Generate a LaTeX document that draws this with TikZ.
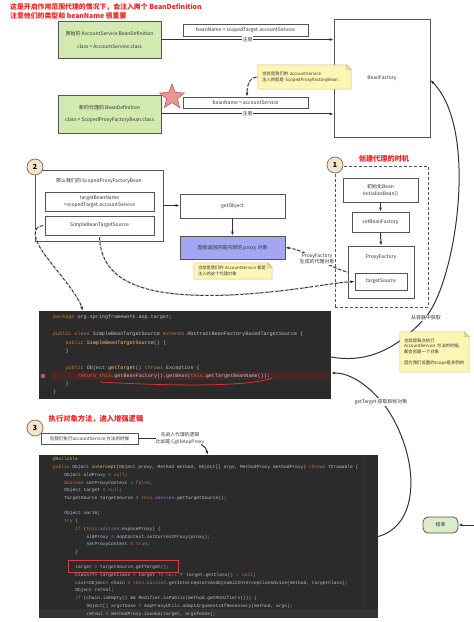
\documentclass[tikz,border=0pt]{standalone}
\usepackage{fontspec}
\setmainfont{Noto Sans CJK SC}
\newfontfamily\codefont{Liberation Mono}
\usetikzlibrary{arrows.meta,shapes.geometric}
\definecolor{edge}{HTML}{555555}
\definecolor{wire}{HTML}{333333}
\definecolor{txt}{HTML}{333333}
\definecolor{gfill}{HTML}{D2E9B0}
\definecolor{gfilltwo}{HTML}{DCECC8}
\definecolor{bluefill}{HTML}{A3A6F0}
\definecolor{notefill}{HTML}{FDF6B5}
\definecolor{noteedge}{HTML}{CFC082}
\definecolor{notefold}{HTML}{E9DF9C}
\definecolor{numfill}{HTML}{F6E3CC}
\definecolor{numedge}{HTML}{7A6A58}
\definecolor{titlered}{HTML}{F02020}
\definecolor{codebg}{HTML}{2B2B2B}
\definecolor{codebar}{HTML}{353535}
\definecolor{ctx}{HTML}{B5C2D0}
\definecolor{ckw}{HTML}{CC7832}
\definecolor{cann}{HTML}{BBB529}
\definecolor{cfn}{HTML}{FFC66D}
\definecolor{cfield}{HTML}{9876AA}
\definecolor{hlred}{HTML}{4A2727}
\definecolor{ulred}{HTML}{E03030}
\definecolor{boxred}{HTML}{D84040}
\definecolor{starfill}{HTML}{EC9393}
\definecolor{staredge}{HTML}{B65C5C}
\definecolor{bpred}{HTML}{C75450}
\newcommand\fs[2]{\fontsize{#1}{#2}\selectfont}
\newcommand\kw[1]{\textcolor{ckw}{#1}}
\newcommand\fn[1]{\textcolor{cfn}{#1}}
\newcommand\fd[1]{\textcolor{cfield}{#1}}
\newcommand\foldcorner[1]{%
  \fill[white] ([xshift=-5bp]#1.north east) -- (#1.north east) -- ([yshift=-5bp]#1.north east) -- cycle;
  \draw[noteedge, line width=0.5bp, fill=notefold] ([xshift=-5bp]#1.north east) -- ([xshift=-5bp,yshift=-5bp]#1.north east) -- ([yshift=-5bp]#1.north east) -- cycle;
  \draw[noteedge, line width=0.5bp] (#1.south west) -- (#1.north west) -- ([xshift=-5bp]#1.north east) -- ([yshift=-5bp]#1.north east) -- (#1.south east) -- cycle;}
\tikzset{
  txtnode/.style={inner sep=0pt, text=txt, align=center},
  box/.style={draw=edge, fill=white, line width=0.8bp, inner sep=0pt, text=txt, align=center, font=\fs{5}{6.5}},
  gbox/.style={box, fill=gfill},
  arr/.style={draw=wire, line width=1bp, -{Latex[length=4bp,width=3bp]}},
  dover/.style={draw=white, line width=0.8bp, dash pattern=on 1.8bp off 3.2bp, shorten >=4.5bp},
  conn/.style={draw=wire, line width=1bp},
  lbl/.style={fill=white, inner sep=0.8bp, text=txt, font=\fs{5}{6.5}, align=center},
  notebox/.style={fill=notefill, inner xsep=4bp, inner ysep=0pt, text=txt, align=left, font=\fs{4.4}{6}},
  numc/.style={circle, draw=numedge, fill=numfill, line width=0.7bp, minimum size=16bp, inner sep=0pt, font=\bfseries\fs{7}{8}},
  redtitle/.style={text=titlered, font=\bfseries\fs{6.9}{8}, inner sep=0pt, align=left},
  codeA/.style={anchor=base west, inner sep=0pt, text=ctx, font=\codefont\fs{5.1}{6}},
  codeB/.style={anchor=base west, inner sep=0pt, text=ctx, font=\codefont\fs{4.6}{6}},
}
\begin{document}
\begin{tikzpicture}[x=1bp,y=-1bp]
\useasboundingbox (0,0) rectangle (474,622);
\fill[white] (0,0) rectangle (474,622);

% ---------- titles
\node[redtitle, anchor=west] (t1) at (10,7.5) {这是开启作用范围代理的情况下，会注入两个 BeanDefinition};
\node[redtitle, anchor=west] (t2) at (10,15.5) {注意他们的类型和 beanName 很重要};

% ---------- top section
\node[gbox, minimum width=103bp, minimum height=37bp, font=\fs{5}{13}] (g1) at (109.5,39.5) {原始的 AccountService BeanDefinition\\class = AccountService.class};
\node[box, minimum width=125bp, minimum height=12bp] (bn1) at (245.5,30) {beanName = scopedTarget.accountService};
\node[box, minimum width=96bp, minimum height=118bp] (bf) at (382,78) {BeanFactory};
\node[gbox, minimum width=103bp, minimum height=38bp, font=\fs{5}{13}] (g2) at (109.5,114) {新的代理的 BeanDefinition\\class = ScopedProxyFactoryBean.class};
\node[box, minimum width=125bp, minimum height=11bp] (bn2) at (245.5,102.5) {beanName = accountService};
\node[star, star points=5, star point ratio=2.3, minimum size=26bp, inner sep=0pt, fill=starfill, draw=staredge, line width=0.6bp] (st) at (172,97) {};
\draw[arr] (g1.east) -- (g1.east -| bf.west) node[lbl, midway] (r1) {注册};
\draw[arr] (g2.east) -- (g2.east -| bf.west) node[lbl, midway] (r2) {注册};
\node[notebox, minimum width=93bp, minimum height=24bp, text width=85bp] (n1) at (304.5,77) {也就是我们的 accountService\\注入的就是 ScopedProxyFactoryBean};
\foldcorner{n1}
\draw[arr] (n1.west) .. controls (249,77) and (247,86) .. ([xshift=1.5bp]bn2.north);
\draw[dover] (n1.west) .. controls (249,77) and (247,86) .. ([xshift=1.5bp]bn2.north);

% ---------- section 2
\node[box, minimum width=128bp, minimum height=71bp] (spfb) at (99,205.5) {};
\node[txtnode, font=\fs{5}{6}] (spfbt) at (99,181) {那么我们的 ScopedProxyFactoryBean};
\node[box, minimum width=109bp, minimum height=19bp, font=\fs{5}{7}] (tbn) at (99.5,201.5) {targetBeanName\\=scopedTarget.accountService};
\node[box, minimum width=109bp, minimum height=19bp] (sbts) at (99.5,225.5) {SimpleBeanTargetSource};
\node[numc] (c2) at (35,167) {2};
\node[box, minimum width=105bp, minimum height=24bp] (go) at (232.5,206) {getObject};
\node[box, fill=bluefill, minimum width=105bp, minimum height=23bp] (px) at (232.5,247.5) {直接返回的是内部的 proxy 对象};
\node[notebox, minimum width=78bp, minimum height=16bp, text width=70bp, font=\fs{4.3}{6}] (n2) at (233,271) {也就是我们的 AccountService 都是\\注入的这个代理对象};
\foldcorner{n2}
\draw[arr] (spfb.east) -- (spfb.east -| go.west);
\draw[arr] (go.south) -- (px.north);

% dashed region 1
\node[draw=edge, dash pattern=on 3bp off 2bp, line width=0.8bp, minimum width=93bp, minimum height=141bp, inner sep=0pt] (dz) at (381.5,236.5) {};
\node[numc] (c1) at (335,165) {1};
\node[redtitle, font=\bfseries\fs{7.2}{8}] (t3) at (384,159) {创建代理的时机};
\node[box, minimum width=75bp, minimum height=24bp, font=\fs{5}{7}] (ib) at (380.5,190) {初始化Bean\\initializeBean()};
\node[box, minimum width=57bp, minimum height=20bp] (sbf) at (380.5,222) {setBeanFactory};
\node[box, minimum width=66bp, minimum height=52bp] (pf) at (381,272) {};
\node[txtnode, font=\fs{5}{6}] (pft) at (381,257) {ProxyFactory};
\node[box, minimum width=52bp, minimum height=17bp] (ts) at (381,281.5) {targetSource};
\draw[arr] (ib.south) -- (sbf.north);
\draw[arr] (sbf.south) -- (pf.north);
\draw[arr] (pf.west) .. controls (330,268) and (305,250) .. (px.east);
\draw[dover] (pf.west) .. controls (330,268) and (305,250) .. (px.east);
\node[lbl] (pfl) at (317,259) {ProxyFactory\\生成的代理对象};

% ---------- code block 1
\node[fill=codebg, minimum width=292bp, minimum height=88bp, inner sep=0pt] (code1) at (185,355) {};
\fill[hlred] (50,372) rectangle (331,380);
\node[codeA] (a1) at (53,318.6) {\kw{package} org.springframework.aop.target;};
\node[codeA] (a2) at (53,335.6) {\kw{public class} SimpleBeanTargetSource \kw{extends} AbstractBeanFactoryBasedTargetSource \{};
\node[codeA] (a3) at (65.3,344.6) {\kw{public} \fn{SimpleBeanTargetSource}() \{};
\node[codeA] (a4) at (65.3,352.6) {\}};
\node[codeA] (a5) at (65.3,369.6) {\kw{public} Object \fn{getTarget}() \kw{throws} Exception \{};
\node[codeA] (a6) at (77.6,377.6) {\kw{return this}.getBeanFactory().getBean(\kw{this}.getTargetBeanName());};
\node[codeA] (a7) at (65.3,385.6) {\}};
\node[codeA] (a8) at (53,393.6) {\}};
\fill[bpred] (43,376) circle (2.3bp);
\draw[ulred, line width=0.8bp] (100,382) .. controls (170,386) and (250,387) .. (272,378);

\draw[arr] (sbts.south) .. controls (100,285) and (150,298) .. (230,295) .. controls (290,292) and (330,283) .. (ts.west);
\draw[dover] (sbts.south) .. controls (100,285) and (150,298) .. (230,295) .. controls (290,292) and (330,283) .. (ts.west);
\draw[arr] (sbts.west) .. controls (30,226) and (34,240) .. (45,255) .. controls (60,275) and (78,295) .. ([xshift=44bp]code1.north west);
\draw[dover] (sbts.west) .. controls (30,226) and (34,240) .. (45,255) .. controls (60,275) and (78,295) .. ([xshift=44bp]code1.north west);

% ---------- big curve code1 -> BeanFactory
\draw[arr] ([yshift=-2bp]code1.east) .. controls (375,365) and (405,340) .. (425,318) .. controls (455,285) and (480,130) .. ([yshift=-2bp]bf.east);
\node[lbl] (lc) at (426,318) {从容器中获取};
\node[notebox, minimum width=69bp, minimum height=40bp, text width=61bp, font=\fs{4.4}{5.4}] (n3) at (434.5,352) {也就是每次执行\\AccountService 方法的时候,\\都会创建一个对象\\[5.4pt]因为我们设置的scope是多例的};
\foldcorner{n3}

% ---------- section 3
\node[redtitle, font=\bfseries\fs{7.3}{8}] (t4) at (96,419) {执行对象方法，进入增强逻辑};
\node[box, minimum width=97bp, minimum height=11bp, font=\fs{4.6}{6}] (b3) at (89.5,438.5) {当我们执行accountService 方法的时候};
\node[numc] (c3) at (35,428) {3};
\node[txtnode, font=\fs{4.8}{6.5}] (lab3) at (180,438.5) {先进入代理的逻辑\\比如是 CglibAopProxy};
\draw[conn] (b3.east) -- (lab3.west);

% ---------- code block 2
\node[fill=codebg, minimum width=339bp, minimum height=163bp, inner sep=0pt] (code2) at (208.5,536.5) {};
\draw[codebar, line width=0.6bp] (363,455) -- (363,609);
\fill[codebar] (39,609) rectangle (378,618);
\node[codeB] (b01) at (53,460.5) {\textcolor{cann}{@Nullable}};
\node[codeB] (b02) at (53,468.5) {\kw{public} Object \fn{intercept}(Object proxy, Method method, Object[] args, MethodProxy methodProxy) \kw{throws} Throwable \{};
\node[codeB] (b03) at (64.1,476.5) {Object oldProxy = \kw{null};};
\node[codeB] (b04) at (64.1,484.5) {\kw{boolean} setProxyContext = \kw{false};};
\node[codeB] (b05) at (64.1,491.5) {Object target = \kw{null};};
\node[codeB] (b06) at (64.1,499.5) {TargetSource targetSource = \kw{this}.\fd{advised}.getTargetSource();};
\node[codeB] (b07) at (64.1,514.5) {Object var16;};
\node[codeB] (b08) at (64.1,522.5) {\kw{try} \{};
\node[codeB] (b09) at (75.2,530.5) {\kw{if} (\kw{this}.\fd{advised}.exposeProxy) \{};
\node[codeB] (b10) at (86.3,538.5) {oldProxy = AopContext.setCurrentProxy(proxy);};
\node[codeB] (b11) at (86.3,545.5) {setProxyContext = \kw{true};};
\node[codeB] (b12) at (75.2,553.5) {\}};
\node[codeB] (b13) at (75.2,568.5) {target = targetSource.getTarget();};
\node[codeB] (b14) at (75.2,576.5) {Class<?> targetClass = target != \kw{null} ? target.getClass() : \kw{null};};
\node[codeB] (b15) at (75.2,584.5) {List<Object> chain = \kw{this}.\fd{advised}.getInterceptorsAndDynamicInterceptionAdvice(method, targetClass);};
\node[codeB] (b16) at (75.2,591.5) {Object retVal;};
\node[codeB] (b17) at (75.2,599.5) {\kw{if} (chain.isEmpty() \&\& Modifier.isPublic(method.getModifiers())) \{};
\node[codeB] (b18) at (86.3,607.5) {Object[] argsToUse = AopProxyUtils.adaptArgumentsIfNecessary(method, args);};
\node[codeB] (b19) at (86.3,615.5) {retVal = methodProxy.invoke(target, argsToUse);};
\draw[boxred, line width=0.8bp] (68,560) rectangle (178,572);

\draw[arr] ([xshift=-3bp]lab3.south east) .. controls (206,448) .. ([xshift=169bp]code2.north west);

% ---------- curve code2 -> code1
\draw[arr] (code2.east) .. controls (420,525) and (420,460) .. (388,410) .. controls (370,385) and (350,373) .. ([yshift=-18bp]code1.east);
\node[lbl] (lgt) at (381,402) {getTarget 获取目标对象};

% ---------- end node
\node[box, rounded corners=5bp, fill=gfilltwo, minimum width=35bp, minimum height=16bp] (fin) at (440.5,525) {结束};
\coordinate (finin) at (474,525);
\draw[arr] (finin) -- (fin.east);
\end{tikzpicture}
\end{document}
